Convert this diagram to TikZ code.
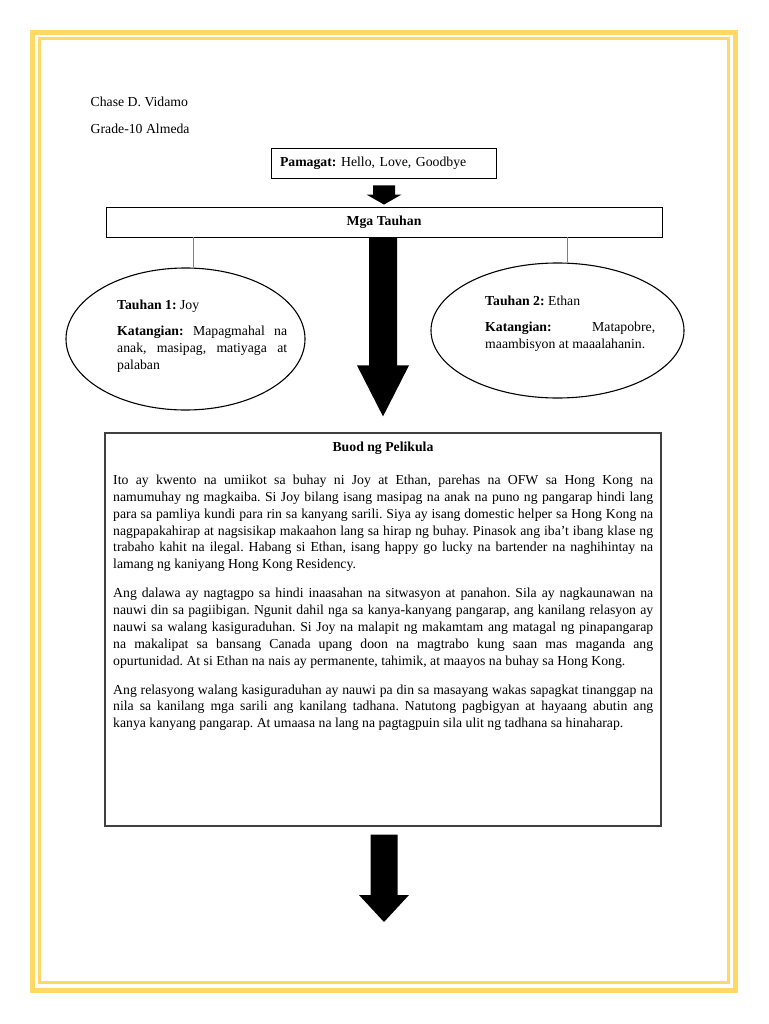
\documentclass[tikz,border=0pt]{standalone}
\usepackage{fontspec}
\setmainfont{Liberation Serif}
\frenchspacing
\usetikzlibrary{shapes.geometric,calc}
\definecolor{pelGold}{HTML}{FFD966}
\definecolor{pelGray}{HTML}{404040}
\definecolor{pelStem}{HTML}{7F7F7F}
\tikzset{
  pel frame/.style={draw=pelGold, line width=5pt},
  pel inner frame/.style={draw=pelGold, line width=3pt},
  pel box/.style={draw=black, line width=0.9pt, rectangle, inner sep=0pt},
  pel summary/.style={draw=pelGray, line width=1.2pt, rectangle, inner sep=0pt},
  pel oval/.style={draw=black, line width=1.1pt, ellipse, inner sep=0pt},
  pel stem/.style={draw=pelStem, line width=0.9pt},
  pel text/.style={font=\fontsize{13.75}{16.8}\selectfont, inner sep=0pt},
  pel body/.style={pel text, align=justify},
}

\begin{document}
\begin{tikzpicture}[x=1pt,y=-1pt]
  \useasboundingbox (0,0) rectangle (768,1024);
  \fill[white] (0,0) rectangle (768,1024);
  % page border
  \draw[pel frame] (32.5,32.5) rectangle (735,990);
  \draw[pel inner frame] (39,39) rectangle (728.5,982);

  % heading
  \node[pel text, anchor=base west] (author) at (90.5,107) {Chase D. Vidamo};
  \node[pel text, anchor=base west] (grade) at (90.5,134) {Grade-10 Almeda};

  \node[pel box, pel text, text width=207, inner xsep=9pt, minimum height=30, align=left] (pamagat) at (383.5,163) {\textbf{Pamagat:} Hello, Love, Goodbye};
  \node[pel box, pel text, minimum width=556, minimum height=30] (tauhan) at (384,222) {\textbf{Mga Tauhan}};

  % characters
  \node[pel oval, minimum width=239, minimum height=142] (joy) at (185.5,339) {};
  \node[pel oval, minimum width=253, minimum height=135] (ethan) at (557.5,330.5) {};
  \node[pel body, text width=170, anchor=north west] (joytext) at (117,300) {\textbf{Tauhan 1:} Joy\par\vspace{9pt}\textbf{Katangian:} Mapagmahal na\linebreak anak, masipag, matiyaga at\linebreak palaban};
  \node[pel body, text width=170, anchor=north west] (ethantext) at (485,296) {\textbf{Tauhan 2:} Ethan\par\vspace{9pt}\textbf{Katangian:} Matapobre,\linebreak maambisyon at maaalahanin.};
  \draw[pel stem] ([xshift=7.5]joy.north |- tauhan.south) -- ([xshift=7.5]joy.north);
  \draw[pel stem] ([xshift=9.5]ethan.north |- tauhan.south) -- ([xshift=9.5]ethan.north);

  % summary
  \node[pel summary, minimum width=556, minimum height=393] (buod) at (383,629.5) {};
  \node[pel text] (buodtitle) at (383,448) {\textbf{Buod ng Pelikula}};
  \node[pel body, text width=540, anchor=north west] (buodtext) at (113,475) {Ito ay kwento na umiikot sa buhay ni Joy at Ethan, parehas na OFW sa Hong Kong na\linebreak
namumuhay ng magkaiba. Si Joy bilang isang masipag na anak na puno ng pangarap hindi lang\linebreak
para sa pamliya kundi para rin sa kanyang sarili. Siya ay isang domestic helper sa Hong Kong na\linebreak
nagpapakahirap at nagsisikap makaahon lang sa hirap ng buhay. Pinasok ang iba't ibang klase ng\linebreak
trabaho kahit na ilegal. Habang si Ethan, isang happy go lucky na bartender na naghihintay na\linebreak
lamang ng kaniyang Hong Kong Residency.\par\vspace{12.3pt}
Ang dalawa ay nagtagpo sa hindi inaasahan na sitwasyon at panahon. Sila ay nagkaunawan na\linebreak
nauwi din sa pagiibigan. Ngunit dahil nga sa kanya-kanyang pangarap, ang kanilang relasyon ay\linebreak
nauwi sa walang kasiguraduhan. Si Joy na malapit ng makamtam ang matagal ng pinapangarap\linebreak
na makalipat sa bansang Canada upang doon na magtrabo kung saan mas maganda ang\linebreak
opurtunidad. At si Ethan na nais ay permanente, tahimik, at maayos na buhay sa Hong Kong.\par\vspace{12.3pt}
Ang relasyong walang kasiguraduhan ay nauwi pa din sa masayang wakas sapagkat tinanggap na\linebreak
nila sa kanilang mga sarili ang kanilang tadhana. Natutong pagbigyan at hayaang abutin ang\linebreak
kanya kanyang pangarap. At umaasa na lang na pagtagpuin sila ulit ng tadhana sa hinaharap.};

  % block arrows
  \coordinate (a1s) at ([yshift=-7]pamagat.south);
  \coordinate (a1t) at ([yshift=2]tauhan.north);
  \coordinate (a2s) at (tauhan.south);
  \coordinate (a2t) at ([yshift=16]buod.north);
  \coordinate (a3s) at ([yshift=-8]buod.south);
  \coordinate (a3t) at (384,922);
  \foreach \s/\t/\sw/\hw/\hl in {a1s/a1t/11/17.5/10, a2s/a2t/14/26/51, a3s/a3t/13.5/25/27}
    \fill ($(\t |- \s)+(-\sw,0)$) -- ($(\t |- \s)+(\sw,0)$) -- ($(\t)+(\sw,-\hl)$) -- ($(\t)+(\hw,-\hl)$)
      -- (\t) -- ($(\t)+(-\hw,-\hl)$) -- ($(\t)+(-\sw,-\hl)$) -- cycle;
\end{tikzpicture}
\end{document}
